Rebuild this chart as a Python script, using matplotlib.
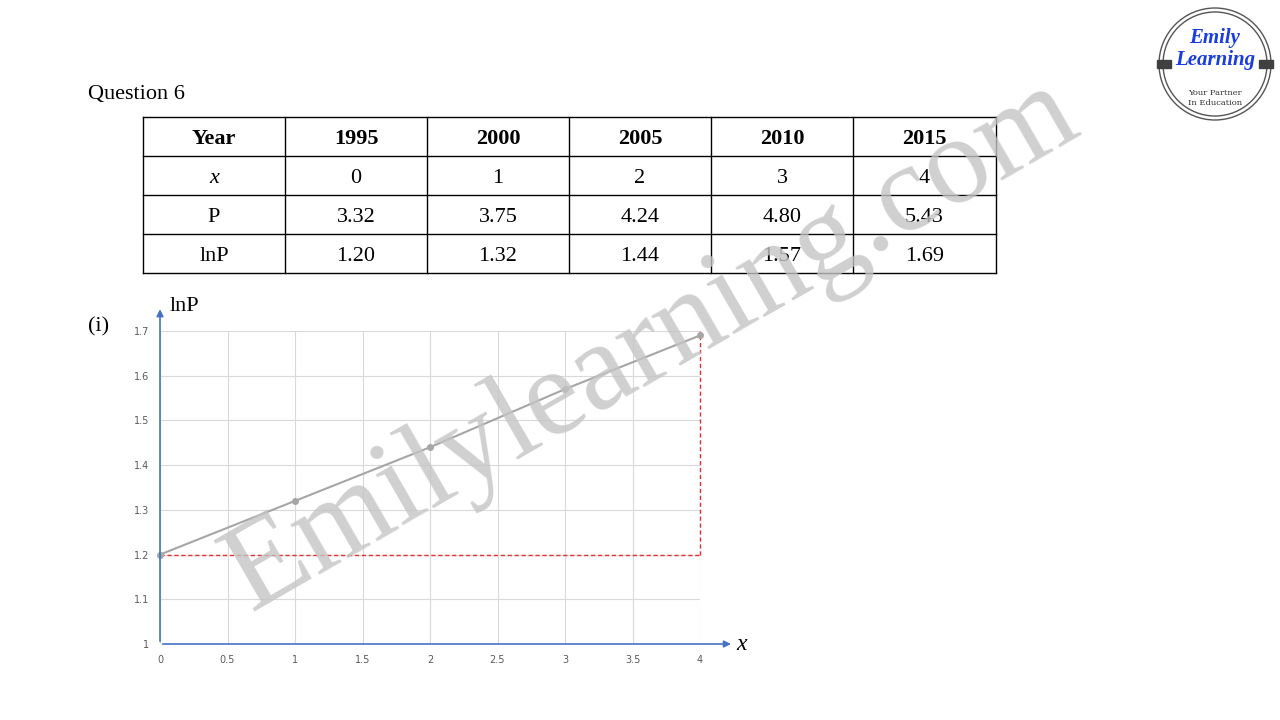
import matplotlib
matplotlib.use('Agg')
import matplotlib.pyplot as plt
from matplotlib.patches import Circle, Rectangle

years = ['1995', '2000', '2005', '2010', '2015']
x_vals = [0, 1, 2, 3, 4]
p_vals = ['3.32', '3.75', '4.24', '4.80', '5.43']
lnp_vals = [1.20, 1.32, 1.44, 1.57, 1.69]
row_names = ['Year', 'x', 'P', 'lnP']

SERIF = 'Liberation Serif'

fig = plt.figure(figsize=(12.8, 7.2), dpi=100)

# overlay in pixel coords for the text / table
ov = fig.add_axes([0, 0, 1, 1])
ov.set_xlim(0, 1280)
ov.set_ylim(720, 0)
ov.axis('off')

ov.text(88, 95, 'Question 6', fontsize=16, family=SERIF, va='center')
ov.text(88, 327, '(i)', fontsize=16, family=SERIF, va='center')

col_edges = [143, 285, 427, 569, 711, 853, 996]
row_edges = [117, 156, 195, 234, 273]
for xe in col_edges:
    ov.plot([xe, xe], [row_edges[0], row_edges[-1]], color='black', lw=1)
for ye in row_edges:
    ov.plot([col_edges[0], col_edges[-1]], [ye, ye], color='black', lw=1)

rows = [years, [str(v) for v in x_vals], p_vals, ['%.2f' % v for v in lnp_vals]]
for r in range(4):
    cy = (row_edges[r] + row_edges[r + 1]) / 2 + 3
    cells = [row_names[r]] + rows[r]
    for c, s in enumerate(cells):
        cx = (col_edges[c] + col_edges[c + 1]) / 2
        kw = dict(fontsize=16, family=SERIF, ha='center', va='center')
        if r == 0:
            kw['weight'] = 'bold'
        if r == 1 and c == 0:
            kw['style'] = 'italic'
        ov.text(cx, cy, s, **kw)

# logo
ov.add_patch(Circle((1215, 64), 56, fill=False, ec='#555555', lw=1))
ov.add_patch(Circle((1215, 64), 52, fill=False, ec='#555555', lw=1))
ov.add_patch(Rectangle((1157, 60), 14, 8, color='#404040'))
ov.add_patch(Rectangle((1259, 60), 14, 8, color='#404040'))
ov.text(1215, 38, 'Emily', color='#1a3de0', fontsize=15, style='italic', weight='bold', family=SERIF, ha='center', va='center')
ov.text(1215, 60, 'Learning', color='#1a3de0', fontsize=15, style='italic', weight='bold', family=SERIF, ha='center', va='center')
ov.text(1215, 93, 'Your Partner', color='#333333', fontsize=6, family='DejaVu Serif', ha='center', va='center')
ov.text(1215, 103, 'In Education', color='#333333', fontsize=6, family='DejaVu Serif', ha='center', va='center')

# chart
ax = fig.add_axes([160 / 1280, 1 - 644 / 720, 540 / 1280, 313 / 720])
ax.patch.set_alpha(0)
ax.set_xlim(0, 4)
ax.set_ylim(1, 1.7)
ax.set_xticks([0, 0.5, 1, 1.5, 2, 2.5, 3, 3.5, 4])
ax.set_xticklabels(['0', '0.5', '1', '1.5', '2', '2.5', '3', '3.5', '4'])
ax.set_yticks([1, 1.1, 1.2, 1.3, 1.4, 1.5, 1.6, 1.7])
ax.set_yticklabels(['1', '1.1', '1.2', '1.3', '1.4', '1.5', '1.6', '1.7'])
ax.tick_params(length=0, labelsize=7, colors='#595959', pad=8)
ax.grid(color='#d9d9d9', lw=0.8)
for s in ax.spines.values():
    s.set_visible(False)

ax.plot(x_vals, lnp_vals, color='#a6a6a6', lw=1.5, marker='o', ms=4, zorder=3, clip_on=False)
ax.plot([0, 4], [lnp_vals[0], lnp_vals[0]], color='#e03030', lw=1, ls=(0, (3, 2)), zorder=2)
ax.plot([4, 4], [lnp_vals[0], 1.7], color='#e03030', lw=1, ls=(0, (3, 2)), zorder=2, clip_on=False)

# axes with arrows
ax.annotate('', xy=(4.25, 1), xytext=(0, 1), annotation_clip=False,
            arrowprops=dict(arrowstyle='-|>', color='#4472c4', lw=1.2, mutation_scale=10))
ax.annotate('', xy=(0, 1.755), xytext=(0, 1), annotation_clip=False,
            arrowprops=dict(arrowstyle='-|>', color='#4472c4', lw=1.2, mutation_scale=10))
ax.text(4.27, 1.0, 'x', fontsize=17, family=SERIF, style='italic', va='center')
ax.text(0.07, 1.755, 'lnP', fontsize=16, family=SERIF, va='center')

# watermark
fig.text(652 / 1280, 1 - 345 / 720, 'Emilylearning.com', fontsize=90, family=SERIF, color='#c4c4c4', alpha=0.8,
         rotation=30, ha='center', va='center', rotation_mode='anchor', zorder=10)

fig.savefig('out.png', dpi=100)
